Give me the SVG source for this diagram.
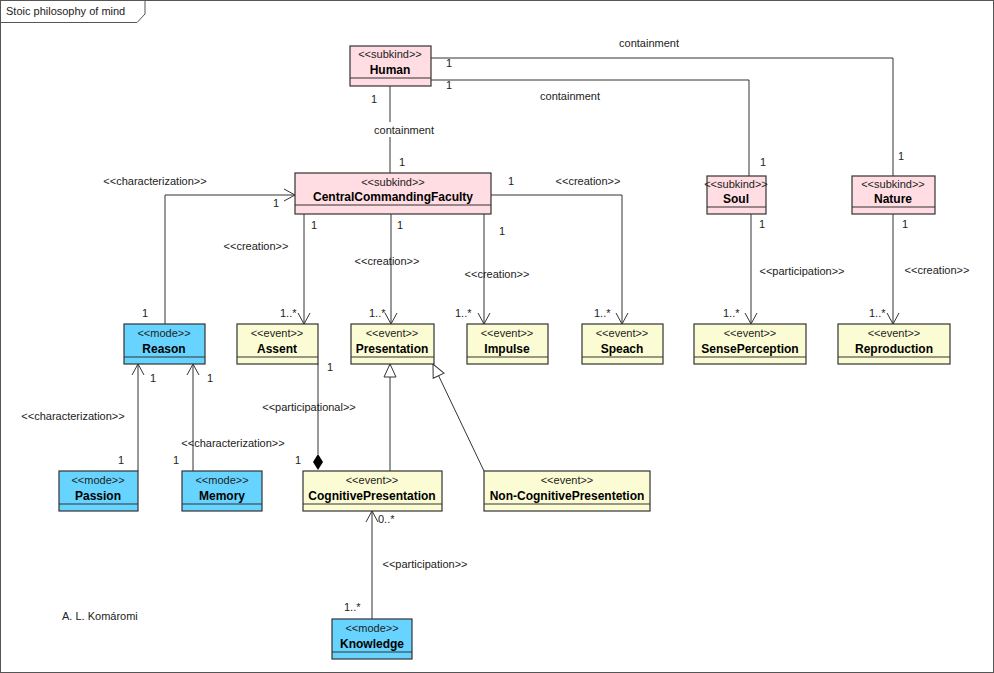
<svg xmlns="http://www.w3.org/2000/svg" width="994" height="673" viewBox="0 0 994 673">
<style>
text{font-family:"Liberation Sans",Arial,sans-serif;font-size:11px;fill:#222}
.n{font-weight:bold;font-size:12px;fill:#000}
.c{text-anchor:middle}
.b{stroke:#333;stroke-width:1.2}
.k{fill:#ffdde2}.e{fill:#fcfcd4}.m{fill:#66d4ff}
.l{fill:none;stroke:#333;stroke-width:1}
</style>
<defs>
<marker id="o" markerWidth="14" markerHeight="14" refX="12" refY="7" orient="auto" markerUnits="userSpaceOnUse"><path d="M1,1 L12,7 L1,13" fill="none" stroke="#333"/></marker>
<marker id="t" markerWidth="16" markerHeight="16" refX="14" refY="7" orient="auto" markerUnits="userSpaceOnUse"><path d="M1,1 L14,7 L1,13Z" fill="#fff" stroke="#333"/></marker>
<marker id="d" markerWidth="20" markerHeight="12" refX="1" refY="6" orient="auto" markerUnits="userSpaceOnUse"><path d="M1,6 L9,1 L17,6 L9,11Z" fill="#000"/></marker>
</defs>
<rect x="0.5" y="0.5" width="993" height="672" fill="#fff" stroke="#555"/>
<path d="M0.5,22.5 H137 L145,14 V0.5" fill="none" stroke="#555"/>
<text x="6" y="15">Stoic philosophy of mind</text>
<g id="connectors">
<path class="l" d="M431,58 H893 V176"/><text x="649" y="47" class="c">containment</text><text x="446" y="67">1</text><text x="898" y="160">1</text>
<path class="l" d="M431,80 H749 V176"/><text x="570" y="100" class="c">containment</text><text x="446" y="89">1</text><text x="760" y="166">1</text>
<path class="l" d="M390,86 V122 M390,137 V173"/><text x="404" y="134" class="c">containment</text><text x="371" y="103">1</text><text x="399" y="166">1</text>
<path class="l" d="M165,324 V195 H295" marker-end="url(#o)"/><text x="155" y="185" class="c">&lt;&lt;characterization&gt;&gt;</text><text x="273" y="207">1</text><text x="142" y="317">1</text>
<path class="l" d="M304,214 V324" marker-end="url(#o)"/><text x="311" y="229">1</text><text x="256" y="250" class="c">&lt;&lt;creation&gt;&gt;</text><text x="280" y="317">1..*</text>
<path class="l" d="M391,214 V324" marker-end="url(#o)"/><text x="397" y="229">1</text><text x="387" y="265" class="c">&lt;&lt;creation&gt;&gt;</text><text x="369" y="317">1..*</text>
<path class="l" d="M484,214 V324" marker-end="url(#o)"/><text x="499" y="235">1</text><text x="497" y="278" class="c">&lt;&lt;creation&gt;&gt;</text><text x="455" y="317">1..*</text>
<path class="l" d="M491,195 H622 V324" marker-end="url(#o)"/><text x="508" y="185">1</text><text x="588" y="185" class="c">&lt;&lt;creation&gt;&gt;</text><text x="594" y="317">1..*</text>
<path class="l" d="M751,214 V324" marker-end="url(#o)"/><text x="759" y="228">1</text><text x="802" y="275" class="c">&lt;&lt;participation&gt;&gt;</text><text x="723" y="317">1..*</text>
<path class="l" d="M893,214 V324" marker-end="url(#o)"/><text x="902" y="228">1</text><text x="937" y="274" class="c">&lt;&lt;creation&gt;&gt;</text><text x="869" y="317">1..*</text>
<path class="l" d="M138,471 V364" marker-end="url(#o)"/><text x="150" y="382">1</text><text x="73" y="420" class="c">&lt;&lt;characterization&gt;&gt;</text><text x="118" y="464">1</text>
<path class="l" d="M193,471 V364" marker-end="url(#o)"/><text x="207" y="382">1</text><text x="233" y="447" class="c">&lt;&lt;characterization&gt;&gt;</text><text x="173" y="464">1</text>
<path class="l" d="M318,364 V454" marker-end="url(#d)"/><text x="327" y="371">1</text><text x="309" y="411" class="c">&lt;&lt;participational&gt;&gt;</text><text x="295" y="464">1</text>
<path class="l" d="M390,471 V364" marker-end="url(#t)"/>
<path class="l" d="M484,471 L433,364" marker-end="url(#t)"/>
<path class="l" d="M372,619 V511" marker-end="url(#o)"/><text x="378" y="523">0..*</text><text x="425" y="568" class="c">&lt;&lt;participation&gt;&gt;</text><text x="344" y="611">1..*</text>
</g>
<g id="Human"><rect class="b k" x="350" y="46" width="81" height="40"/><line class="b" x1="350" y1="78" x2="431" y2="78"/><text x="390" y="58" class="c">&lt;&lt;subkind&gt;&gt;</text><text x="390" y="74" class="c n">Human</text></g>
<g id="CentralCommandingFaculty"><rect class="b k" x="295" y="173" width="196" height="41"/><line class="b" x1="295" y1="205" x2="491" y2="205"/><text x="393" y="186" class="c">&lt;&lt;subkind&gt;&gt;</text><text x="393" y="201" class="c n">CentralCommandingFaculty</text></g>
<g id="Soul"><rect class="b k" x="707" y="176" width="59" height="38"/><line class="b" x1="707" y1="207" x2="766" y2="207"/><text x="736" y="188" class="c">&lt;&lt;subkind&gt;&gt;</text><text x="736" y="203" class="c n">Soul</text></g>
<g id="Nature"><rect class="b k" x="852" y="176" width="83" height="38"/><line class="b" x1="852" y1="207" x2="935" y2="207"/><text x="893" y="188" class="c">&lt;&lt;subkind&gt;&gt;</text><text x="893" y="203" class="c n">Nature</text></g>
<g id="Reason"><rect class="b m" x="124" y="324" width="81" height="40"/><line class="b" x1="124" y1="357" x2="205" y2="357"/><text x="164" y="337" class="c">&lt;&lt;mode&gt;&gt;</text><text x="164" y="353" class="c n">Reason</text></g>
<g id="Assent"><rect class="b e" x="237" y="324" width="81" height="40"/><line class="b" x1="237" y1="357" x2="318" y2="357"/><text x="277" y="337" class="c">&lt;&lt;event&gt;&gt;</text><text x="277" y="353" class="c n">Assent</text></g>
<g id="Presentation"><rect class="b e" x="351" y="324" width="83" height="40"/><line class="b" x1="351" y1="357" x2="434" y2="357"/><text x="392" y="337" class="c">&lt;&lt;event&gt;&gt;</text><text x="392" y="353" class="c n">Presentation</text></g>
<g id="Impulse"><rect class="b e" x="467" y="324" width="81" height="40"/><line class="b" x1="467" y1="357" x2="548" y2="357"/><text x="507" y="337" class="c">&lt;&lt;event&gt;&gt;</text><text x="507" y="353" class="c n">Impulse</text></g>
<g id="Speach"><rect class="b e" x="582" y="324" width="81" height="40"/><line class="b" x1="582" y1="357" x2="663" y2="357"/><text x="622" y="337" class="c">&lt;&lt;event&gt;&gt;</text><text x="622" y="353" class="c n">Speach</text></g>
<g id="SensePerception"><rect class="b e" x="694" y="324" width="112" height="40"/><line class="b" x1="694" y1="357" x2="806" y2="357"/><text x="750" y="337" class="c">&lt;&lt;event&gt;&gt;</text><text x="750" y="353" class="c n">SensePerception</text></g>
<g id="Reproduction"><rect class="b e" x="838" y="324" width="112" height="40"/><line class="b" x1="838" y1="357" x2="950" y2="357"/><text x="894" y="337" class="c">&lt;&lt;event&gt;&gt;</text><text x="894" y="353" class="c n">Reproduction</text></g>
<g id="Passion"><rect class="b m" x="59" y="471" width="79" height="40"/><line class="b" x1="59" y1="504" x2="138" y2="504"/><text x="98" y="484" class="c">&lt;&lt;mode&gt;&gt;</text><text x="98" y="500" class="c n">Passion</text></g>
<g id="Memory"><rect class="b m" x="182" y="471" width="80" height="40"/><line class="b" x1="182" y1="504" x2="262" y2="504"/><text x="222" y="484" class="c">&lt;&lt;mode&gt;&gt;</text><text x="222" y="500" class="c n">Memory</text></g>
<g id="CognitivePresentation"><rect class="b e" x="303" y="471" width="139" height="40"/><line class="b" x1="303" y1="504" x2="442" y2="504"/><text x="372" y="484" class="c">&lt;&lt;event&gt;&gt;</text><text x="372" y="500" class="c n">CognitivePresentation</text></g>
<g id="NonCognitivePresentetion"><rect class="b e" x="484" y="471" width="166" height="40"/><line class="b" x1="484" y1="504" x2="650" y2="504"/><text x="567" y="484" class="c">&lt;&lt;event&gt;&gt;</text><text x="567" y="500" class="c n">Non-CognitivePresentetion</text></g>
<g id="Knowledge"><rect class="b m" x="332" y="619" width="80" height="40"/><line class="b" x1="332" y1="652" x2="412" y2="652"/><text x="372" y="632" class="c">&lt;&lt;mode&gt;&gt;</text><text x="372" y="648" class="c n">Knowledge</text></g>
<text x="62" y="620">A. L. Komáromi</text>
</svg>
